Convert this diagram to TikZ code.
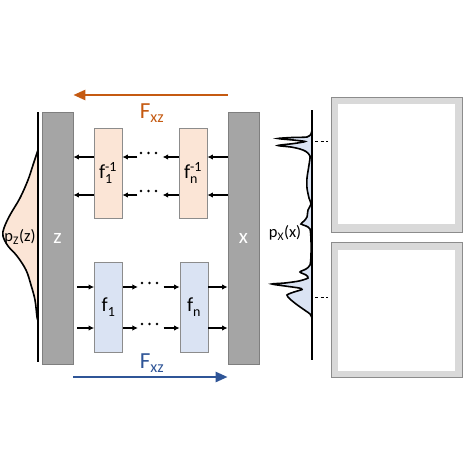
\documentclass[tikz,border=0pt]{standalone}
\usepackage{fontspec}
\setmainfont{Carlito}
\usetikzlibrary{arrows.meta,calc}
\definecolor{orng}{HTML}{C55A11}
\definecolor{blu}{HTML}{2F5597}
\definecolor{peach}{HTML}{FBE5D6}
\definecolor{lblue}{HTML}{DAE3F3}
\definecolor{bargray}{HTML}{A5A5A5}
\definecolor{bardraw}{HTML}{7F7F7F}
\definecolor{sqgray}{HTML}{D9D9D9}
\tikzset{
  bar/.style={draw=bardraw, fill=bargray, line width=0.8pt, minimum width=31pt, minimum height=252pt, inner sep=0pt, text=white, font=\fontsize{21}{21}\selectfont},
  fbox/.style={draw=gray!90, line width=0.8pt, minimum width=28pt, minimum height=90pt, inner sep=0pt, font=\fontsize{20}{20}\selectfont},
  invbox/.style={fbox, fill=peach},
  fwdbox/.style={fbox, fill=lblue},
  arr/.style={-{Latex[length=5.5pt,width=5.5pt]}, line width=1.6pt},
  bigarr/.style={-{Triangle[length=12pt,width=10pt]}, line width=2.5pt},
  sq/.style={draw=gray!90, fill=sqgray, line width=0.8pt, minimum width=131pt, minimum height=135pt, inner sep=0pt},
  lbl/.style={font=\fontsize{16.5}{16.5}\selectfont, inner sep=0pt},
  flbl/.style={font=\fontsize{23}{23}\selectfont, inner sep=0pt},
  dotmark/.style={fill=black},
}
\newcommand{\fsub}[2]{f$_{\mbox{\fontsize{14}{14}\selectfont #1}}^{\mbox{\fontsize{14}{14}\selectfont #2}}$}
\begin{document}
\begin{tikzpicture}[x=1pt,y=-1pt]
\useasboundingbox[fill=white] (0,0) rectangle (474,474);

% density p_Z
\fill[peach] (38,150) plot[smooth, tension=0.6] coordinates {(38,150) (33,165) (28,180) (20,198) (10,215) (4,228) (3,236) (8,246) (17,256) (26,270) (31,285) (35,300) (37,317) (38,320)} -- cycle;
\draw[line width=1.6pt] plot[smooth, tension=0.6] coordinates {(38,150) (33,165) (28,180) (20,198) (10,215) (4,228) (3,236) (8,246) (17,256) (26,270) (31,285) (35,300) (37,317) (38,320)};
\draw[line width=2.8pt] (38,112) -- (38,362);
\node[lbl] (pz) at (20,237) {p\textsubscript{Z}(z)};

% bars
\node[bar] (zbar) at (57.5,238) {z};
\node[bar] (xbar) at (243.5,238) {x};

% boxes
\node[invbox] (f1inv) at (108,173) {\fsub{1}{-1}};
\node[invbox] (fninv) at (193,173) {\fsub{n}{-1}};
\node[fwdbox] (f1) at (108.5,307) {\fsub{1}{}};
\node[fwdbox] (fn) at (194,307) {\fsub{n}{}};

% upper arrows (inverse direction)
\foreach \yy in {157,195}{
  \draw[arr] (f1inv.west |- 0,\yy) -- (zbar.east |- 0,\yy);
  \draw[arr] ($(f1inv.east |- 0,\yy)+(15,0)$) -- (f1inv.east |- 0,\yy);
  \draw[arr] (fninv.west |- 0,\yy) -- ($(fninv.west |- 0,\yy)+(-16,0)$);
  \draw[arr] (xbar.west |- 0,\yy) -- (fninv.east |- 0,\yy);
  \foreach \xx in {141,148.5,156}{\fill[dotmark] (\xx,\yy-4) circle (1.3);}
}
% lower arrows (forward direction)
\foreach \yy in {287,328}{
  \draw[arr] ($(zbar.east |- 0,\yy)+(4,0)$) -- (f1.west |- 0,\yy);
  \draw[arr] (f1.east |- 0,\yy) -- ($(f1.east |- 0,\yy)+(15,0)$);
  \draw[arr] ($(fn.west |- 0,\yy)+(-16,0)$) -- (fn.west |- 0,\yy);
  \draw[arr] (fn.east |- 0,\yy) -- (xbar.west |- 0,\yy);
  \foreach \xx in {142,149.5,157}{\fill[dotmark] (\xx,\yy-4) circle (1.3);}
}

% big arrows
\draw[bigarr, orng] (xbar.west |- 0,95) -- (zbar.east |- 0,95);
\node[flbl, text=orng] (fxz1) at (152,113) {F\textsubscript{xz}};
\draw[bigarr, blu] (zbar.east |- 0,377) -- (xbar.west |- 0,377);
\node[flbl, text=blu] (fxz2) at (152,363) {F\textsubscript{xz}};

% density p_X
\def\pxcurve{(312,130) (311,134) (307,137) (292,137.5) (278,138.5) (293,140) (305,141.5) (294,143.5) (278,145.5) (291,147) (300,149) (306,151.5) (310,156) (309,165) (307,178) (307,188) (309,198) (311,204) (308,210) (307,217) (304,221) (301,224) (306,226) (310,229) (311,240) (311,255) (310,265) (306,269) (300,272) (306,275) (308,278) (299,281) (285,283) (272,284) (285,286) (299,288) (302,289.5) (294,292) (287,295) (290,299) (296,304) (303,309) (310,314) (312,318)}
\fill[lblue] plot[smooth, tension=0.45] coordinates {\pxcurve} -- cycle;
\draw[line width=1.6pt] plot[smooth, tension=0.45] coordinates {\pxcurve};
\draw[line width=2.5pt] (312,110) -- (312,360);
\node[lbl] (px) at (285,233) {p\textsubscript{X}(x)};

% squares
\node[sq] (sqA) at (396.5,164.5) {};
\fill[white] ($(sqA.north west)+(7,7)$) rectangle ($(sqA.south east)+(-7,-8)$);
\node[sq] (sqB) at (396.5,310) {};
\fill[white] ($(sqB.north west)+(7,8)$) rectangle ($(sqB.south east)+(-7,-7)$);

% dashed links
\draw[dashed, dash pattern=on 3pt off 2.5pt, line width=0.9pt] (315,141) -- ($(sqA.west |- 0,141)+(-3,0)$);
\draw[dashed, dash pattern=on 3pt off 2.5pt, line width=0.9pt] (315,297) -- ($(sqB.west |- 0,297)+(-3,0)$);
\end{tikzpicture}
\end{document}
